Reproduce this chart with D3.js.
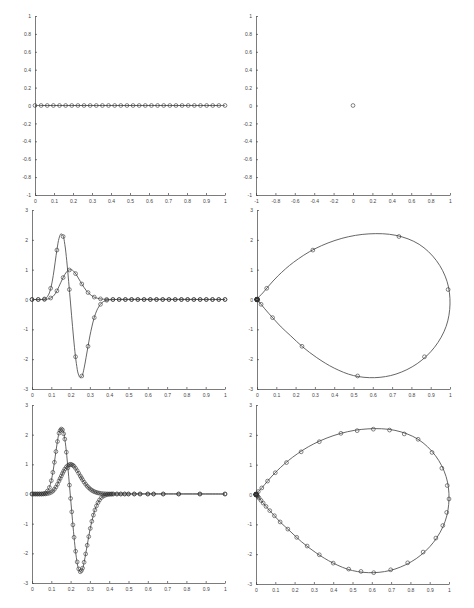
<!DOCTYPE html>
<html><head><meta charset="utf-8">
<script src="https://cdn.jsdelivr.net/npm/d3@7"></script>
<style>body{margin:0;background:#fff}text{font-family:"Liberation Sans",Arial,sans-serif;font-size:5px;fill:#444}</style>
</head><body><svg id="fig" width="474" height="608"></svg>
<script>
// curve: x, u (bump), v (steep wave)
const gridX = [0,0.05,0.06,0.07,0.08,0.09,0.10,0.11,0.12,0.13,0.14,0.15,0.16,0.17,0.18,0.19,0.20,0.21,0.22,0.23,0.24,0.25,0.26,0.27,0.28,0.29,0.30,0.31,0.32,0.33,0.34,0.35,0.36,0.37,0.38,0.39,0.40,0.42,1];
const gridU = [0,0,0.001,0.004,0.012,0.03,0.06,0.11,0.19,0.30,0.44,0.58,0.72,0.84,0.93,0.985,1.0,0.98,0.92,0.83,0.72,0.61,0.50,0.40,0.31,0.235,0.175,0.125,0.088,0.06,0.04,0.026,0.016,0.01,0.006,0.003,0.0015,0,0];
const gridV = [0,0,0.01,0.03,0.10,0.22,0.45,0.80,1.25,1.70,2.05,2.20,2.15,1.85,1.30,0.60,-0.15,-0.90,-1.60,-2.15,-2.50,-2.62,-2.55,-2.30,-1.95,-1.58,-1.22,-0.92,-0.66,-0.46,-0.31,-0.20,-0.12,-0.07,-0.04,-0.02,-0.01,0,0];

// marker positions
const uniformX = d3.range(32).map(i => i / 31);
const adaptiveX = [0,0.01,0.02,0.03,0.04,0.05,0.06,0.07,0.08,0.09,0.1,0.108,0.116,0.124,0.132,0.14,0.146,0.152,0.158,0.164,0.17,0.178,0.186,0.194,0.2,0.206,0.212,0.218,0.226,0.234,0.242,0.25,0.256,0.262,0.27,0.278,0.286,0.294,0.302,0.31,0.318,0.326,0.334,0.342,0.35,0.36,0.37,0.38,0.39,0.4,0.41,0.42,0.44,0.46,0.48,0.5,0.53,0.56,0.6,0.63,0.68,0.76,0.87,1];

const ticks01 = d3.range(11).map(i => i / 10);
const ticksPm1 = d3.range(11).map(i => -1 + i / 5);
const ticksPm3 = [-3,-2,-1,0,1,2,3];

const lerp = (xs, ys) => x => {
  const i = Math.max(1, d3.bisectLeft(xs, x));
  const t = (x - xs[i - 1]) / (xs[i] - xs[i - 1] || 1);
  return ys[i - 1] + t * (ys[i] - ys[i - 1]);
};
const uAt = lerp(gridX, gridU), vAt = lerp(gridX, gridV);

const svg = d3.select('#fig');
const fmt = d => (Math.round(d * 10) / 10).toString();

function panel({ x0, x1, y0, y1, xd, yd, xt, yt }) {
  const x = d3.scaleLinear().domain(xd).range([x0, x1]);
  const y = d3.scaleLinear().domain(yd).range([y1, y0]);
  const g = svg.append('g');
  g.append('g').attr('transform', `translate(0,${y1})`)
    .call(d3.axisBottom(x).tickValues(xt).tickFormat(fmt).tickSizeInner(-2).tickSizeOuter(0).tickPadding(4));
  g.append('g').attr('transform', `translate(${x0},0)`)
    .call(d3.axisLeft(y).tickValues(yt).tickFormat(fmt).tickSizeInner(-2).tickSizeOuter(0).tickPadding(4));
  g.selectAll('.domain,.tick line').attr('stroke', '#444').attr('stroke-width', 0.7);
  g.selectAll('.tick text').attr('font-size', 5).attr('fill', '#444');
  return { g, x, y };
}
function line(p, pts) {
  p.g.append('path').datum(pts).attr('fill', 'none').attr('stroke', '#555').attr('stroke-width', 0.9)
    .attr('d', d3.line().x(d => p.x(d[0])).y(d => p.y(d[1])).curve(d3.curveCatmullRom));
}
function marks(p, pts) {
  p.g.selectAll(null).data(pts).join('circle')
    .attr('cx', d => p.x(d[0])).attr('cy', d => p.y(d[1])).attr('r', 1.9)
    .attr('fill', 'none').attr('stroke', '#333').attr('stroke-width', 0.6);
}
const gridUV = gridX.map((x, i) => [gridU[i], gridV[i]]);

// row 1
const a = panel({ x0: 35, x1: 225, y0: 16, y1: 195, xd: [0, 1], yd: [-1, 1], xt: ticks01, yt: ticksPm1 });
line(a, uniformX.map(x => [x, 0]));
marks(a, uniformX.map(x => [x, 0]));
const b = panel({ x0: 256, x1: 450, y0: 16, y1: 195, xd: [-1, 1], yd: [-1, 1], xt: ticksPm1, yt: ticksPm1 });
marks(b, [[0, 0]]);

// row 2
const c = panel({ x0: 32, x1: 225, y0: 210, y1: 389, xd: [0, 1], yd: [-3, 3], xt: ticks01, yt: ticksPm3 });
line(c, gridX.map((x, i) => [x, gridU[i]]));
line(c, gridX.map((x, i) => [x, gridV[i]]));
marks(c, uniformX.map(x => [x, uAt(x)]));
marks(c, uniformX.map(x => [x, vAt(x)]));
const d = panel({ x0: 257, x1: 450, y0: 210, y1: 389, xd: [0, 1], yd: [-3, 3], xt: ticks01, yt: ticksPm3 });
line(d, gridUV);
marks(d, uniformX.map(x => [uAt(x), vAt(x)]));

// row 3
const e = panel({ x0: 32, x1: 225, y0: 405, y1: 583, xd: [0, 1], yd: [-3, 3], xt: ticks01, yt: ticksPm3 });
line(e, gridX.map((x, i) => [x, gridU[i]]));
line(e, gridX.map((x, i) => [x, gridV[i]]));
marks(e, adaptiveX.map(x => [x, uAt(x)]));
marks(e, adaptiveX.map(x => [x, vAt(x)]));
const f = panel({ x0: 256, x1: 449, y0: 405, y1: 584, xd: [0, 1], yd: [-3, 3], xt: ticks01, yt: ticksPm3 });
line(f, gridUV);
marks(f, adaptiveX.map(x => [uAt(x), vAt(x)]));
</script></body></html>
